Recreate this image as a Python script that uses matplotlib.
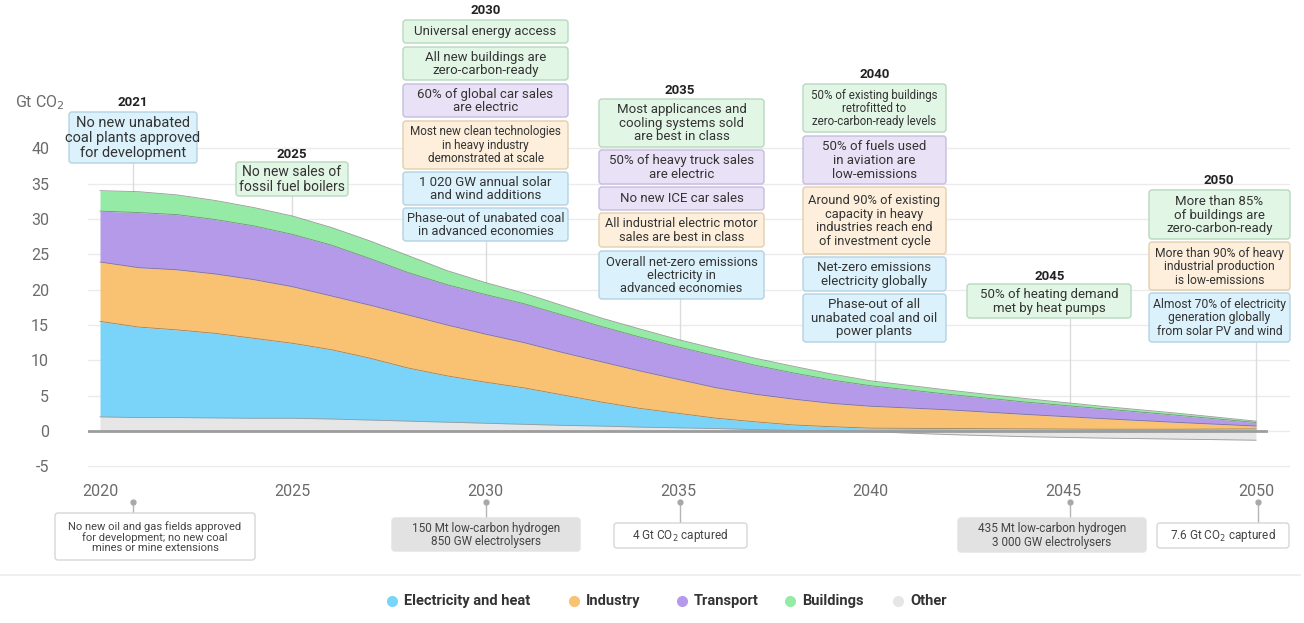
import numpy as np
import matplotlib.pyplot as plt
from matplotlib.patches import FancyBboxPatch

plt.rcParams['font.family'] = ['Roboto', 'DejaVu Sans']
plt.rcParams['axes.unicode_minus'] = False

# Emissions by sector, Gt CO2
years = list(range(2020, 2041)) + [2042, 2044, 2046, 2048, 2050]
other = [2.0, 1.9, 1.9, 1.85, 1.8, 1.8, 1.7, 1.55, 1.4, 1.25, 1.1, 0.95, 0.8, 0.7, 0.55,
         0.45, 0.35, 0.2, 0.1, 0.0, -0.1, -0.5, -0.8, -1.0, -1.15, -1.3]
electricity = [13.5, 12.8, 12.4, 11.95, 11.3, 10.6, 9.8, 8.75, 7.5, 6.55, 5.8, 5.15, 4.3, 3.4, 2.65,
               2.05, 1.45, 1.1, 0.75, 0.6, 0.4, 0.35, 0.3, 0.25, 0.25, 0.3]
industry = [8.4, 8.4, 8.5, 8.4, 8.3, 8.0, 7.6, 7.5, 7.5, 7.2, 6.8, 6.4, 6.0, 5.7, 5.3,
            4.8, 4.3, 3.9, 3.65, 3.3, 3.1, 2.65, 2.05, 1.5, 0.95, 0.4]
transport = [7.2, 7.8, 7.8, 7.7, 7.6, 7.4, 7.2, 6.6, 6.0, 5.7, 5.6, 5.5, 5.3, 5.0, 4.8,
             4.6, 4.5, 4.1, 3.7, 3.3, 2.9, 2.2, 1.75, 1.4, 1.0, 0.5]
buildings = [2.9, 2.95, 2.8, 2.7, 2.6, 2.6, 2.5, 2.5, 2.4, 2.0, 1.7, 1.5, 1.35, 1.2, 1.15,
             1.05, 1.0, 1.0, 0.95, 0.85, 0.7, 0.6, 0.5, 0.35, 0.3, 0.2]

sector_names = ['Electricity and heat', 'Industry', 'Transport', 'Buildings', 'Other']
sector_colors = ['#7ad4fa', '#f8c272', '#b59ae9', '#95eaa5', '#e6e6e6']
y_ticks = [-5, 0, 5, 10, 15, 20, 25, 30, 35, 40]
x_ticks = [2020, 2025, 2030, 2035, 2040, 2045, 2050]

W, H = 1304, 623
fig = plt.figure(figsize=(W / 100, H / 100), dpi=100)

# main axes placed in pixels: x 88..1290, y 95..472
zero_px, px_per_unit = 431, 7.07
top_px, bot_px = 95, 472
ax = fig.add_axes([88 / W, 1 - bot_px / H, (1290 - 88) / W, (bot_px - top_px) / H])
ax.set_xlim(2020 - 12 / 38.53, 2050 + 34 / 38.53)
ax.set_ylim((zero_px - bot_px) / px_per_unit, (zero_px - top_px) / px_per_unit)

for s in ax.spines.values():
    s.set_visible(False)
ax.set_yticks(y_ticks)
ax.set_xticks(x_ticks)
ax.tick_params(length=0, colors='#6b6b6b', labelsize=11.5)
ax.tick_params(axis='y', pad=28)
ax.tick_params(axis='x', pad=9)
ax.yaxis.grid(True, color='#ebebeb', lw=1)
ax.set_axisbelow(True)

# stacked areas: positives up from zero, negative "other" below zero
yrs = np.array(years)
oth = np.array(other)
base = np.maximum(oth, 0)
ax.fill_between(yrs, 0, oth, color=sector_colors[4], lw=0, zorder=2)
ax.plot(yrs, oth, color='#9a9a9a', lw=0.6, zorder=3)
layers = [electricity, industry, transport, buildings]
for vals, col in zip(layers, sector_colors[:4]):
    top = base + np.array(vals)
    ax.fill_between(yrs, base, top, color=col, lw=0, zorder=2)
    ax.plot(yrs, top, color='#5a5a5a', lw=0.6, alpha=0.6, zorder=3)
    base = top

ax.plot([2020 - 12 / 38.53, 2050.25], [0, 0], color='#9d9d9d', lw=2, zorder=4)

# overlay in pixel coordinates for annotations
ov = fig.add_axes([0, 0, 1, 1])
ov.set_xlim(0, W)
ov.set_ylim(H, 0)
ov.axis('off')

ov.text(40, 103, 'Gt CO$_2$', ha='center', va='center', fontsize=11.5, color='#6b6b6b')

fills = {'g': ('#e2f6e5', '#b7d8bd'), 'p': ('#e9e2f6', '#c6bce0'),
         'o': ('#fdefdb', '#e2cfae'), 'b': ('#dbf1fb', '#b3d2e2'),
         'w': ('#ffffff', '#d6d6d6'), 'k': ('#e2e2e2', '#e2e2e2')}


def box(x0, y0, x1, y1, text, kind, size=9.5, color='#333333'):
    fc, ec = fills[kind]
    ov.add_patch(FancyBboxPatch((x0, y0), x1 - x0, y1 - y0,
                                boxstyle='round,pad=0,rounding_size=3',
                                fc=fc, ec=ec, lw=1, zorder=5))
    ov.text((x0 + x1) / 2, (y0 + y1) / 2 + 0.5, text, ha='center', va='center',
            fontsize=size, color=color, linespacing=1.05, zorder=6)


def title(x, y, text):
    ov.text(x, y, text, ha='center', va='center', fontsize=9.5,
            fontweight='bold', color='#222222')


def stem(x, y0):
    # connector from a box down to the zero line, behind the areas
    ax.plot([x, x], [y0, zero_px], color='#dcdcdc', lw=1, zorder=1,
            transform=ov.transData, clip_on=False)


# 2021
title(133, 103, '2021')
box(69, 112, 197, 163, 'No new unabated\ncoal plants approved\nfor development', 'b', 10.5)
stem(133, 163)
# 2025
title(292, 154, '2025')
box(236, 162, 348, 196, 'No new sales of\nfossil fuel boilers', 'g', 10)
stem(292, 196)
# 2030
title(486, 10, '2030')
box(403, 20, 568, 43, 'Universal energy access', 'g', 9.5)
box(403, 47, 568, 80, 'All new buildings are\nzero-carbon-ready', 'g', 9.5)
box(403, 84, 568, 117, '60% of global car sales\nare electric', 'p', 9.5)
box(403, 121, 568, 169, 'Most new clean technologies\nin heavy industry\ndemonstrated at scale', 'o', 8.5)
box(403, 172, 568, 205, '1 020 GW annual solar\nand wind additions', 'b', 9.5)
box(403, 208, 568, 241, 'Phase-out of unabated coal\nin advanced economies', 'b', 9.3)
stem(486, 241)
# 2035
title(680, 91, '2035')
box(599, 99, 764, 147, 'Most applicances and\ncooling systems sold\nare best in class', 'g', 9.5)
box(599, 150, 764, 184, '50% of heavy truck sales\nare electric', 'p', 9.5)
box(599, 187, 764, 210, 'No new ICE car sales', 'p', 9.5)
box(599, 213, 764, 247, 'All industrial electric motor\nsales are best in class', 'o', 9.2)
box(599, 251, 764, 299, 'Overall net-zero emissions\nelectricity in\nadvanced economies', 'b', 9.3)
stem(680, 299)
# 2040
title(875, 75, '2040')
box(803, 84, 946, 132, '50% of existing buildings\nretrofitted to\nzero-carbon-ready levels', 'g', 8.3)
box(803, 136, 946, 184, '50% of fuels used\nin aviation are\nlow-emissions', 'p', 9.5)
box(803, 187, 946, 254, 'Around 90% of existing\ncapacity in heavy\nindustries reach end\nof investment cycle', 'o', 9.3)
box(803, 257, 946, 291, 'Net-zero emissions\nelectricity globally', 'b', 9.5)
box(803, 294, 946, 342, 'Phase-out of all\nunabated coal and oil\npower plants', 'b', 9.5)
stem(875, 342)
# 2045
title(1050, 276, '2045')
box(967, 284, 1131, 318, '50% of heating demand\nmet by heat pumps', 'g', 9.5)
stem(1070, 318)
# 2050
title(1219, 181, '2050')
box(1149, 190, 1290, 239, 'More than 85%\nof buildings are\nzero-carbon-ready', 'g', 9.5)
box(1149, 242, 1290, 290, 'More than 90% of heavy\nindustrial production\nis low-emissions', 'o', 8.7)
box(1149, 293, 1290, 342, 'Almost 70% of electricity\ngeneration globally\nfrom solar PV and wind', 'b', 8.7)
stem(1256, 342)

# bottom milestones
for x, y1 in [(133, 513), (486, 518), (680, 523), (1070, 518), (1258, 523)]:
    ov.plot([x, x], [502, y1], color='#b5b5b5', lw=1, zorder=4)
    ov.plot(x, 502, 'o', color='#a8a8a8', ms=3.5, zorder=4)
box(55, 513, 255, 560, 'No new oil and gas fields approved\nfor development; no new coal\nmines or mine extensions', 'w', 8, '#444444')
box(392, 518, 580, 551, '150 Mt low-carbon hydrogen\n850 GW electrolysers', 'k', 8.5, '#444444')
box(614, 523, 747, 548, '4 Gt CO$_2$ captured', 'w', 8.5, '#444444')
box(958, 518, 1146, 552, '435 Mt low-carbon hydrogen\n3 000 GW electrolysers', 'k', 8.5, '#444444')
box(1157, 523, 1289, 548, '7.6 Gt CO$_2$ captured', 'w', 8.5, '#444444')

ov.plot([0, 1300], [575, 575], color='#ececec', lw=1.2)

# legend
leg_x = [392, 574, 682, 790, 898]
for x, name, col in zip(leg_x, sector_names, sector_colors):
    ov.plot(x, 601, 'o', color=col, ms=7)
    ov.text(x + 12, 601, name, ha='left', va='center', fontsize=10.5,
            fontweight='semibold', color='#333333')

fig.savefig('out.png', dpi=100)
